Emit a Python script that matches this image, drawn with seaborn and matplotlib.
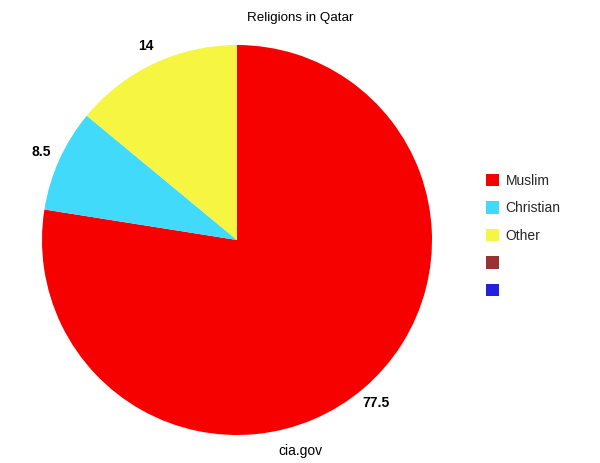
import matplotlib
matplotlib.use("Agg")
import matplotlib.pyplot as plt
import matplotlib.patches as mpatches
import seaborn as sns

sns.set_theme(style="white")
plt.rcParams['font.family'] = ['Liberation Sans', 'DejaVu Sans']

title = "Religions in Qatar"
caption = "cia.gov"
categories = ["Muslim", "Christian", "Other"]
values = [77.5, 8.5, 14]
value_labels = ["77.5", "8.5", "14"]
legend_labels = ["Muslim", "Christian", "Other", "", ""]
legend_colors = ["#F70000", "#42DAFA", "#F5F542", "#993333", "#2222DD"]
slice_colors = sns.color_palette(legend_colors[:len(categories)])

fig = plt.figure(figsize=(6.0, 4.63), dpi=100)
ax = fig.add_axes([42 / 600, (463 - 435) / 463, 390 / 600, 390 / 463])
wedges, texts = ax.pie(values, colors=slice_colors, startangle=90, counterclock=False,
                       labels=value_labels, labeldistance=1.1,
                       textprops=dict(fontsize=10, fontweight="bold", color="black"),
                       wedgeprops=dict(linewidth=0))
for t in texts:
    t.set_ha("center")
ax.set_xlim(-1, 1)
ax.set_ylim(-1, 1)
ax.set_aspect("equal")
ax.axis("off")

fig.text(300 / 600, 1 - 18 / 463, title, ha="center", va="center", fontsize=9.6, color="black")
fig.text(300 / 600, 1 - 451 / 463, caption, ha="center", va="center", fontsize=10, color="black")

handles = [mpatches.Patch(facecolor=c, edgecolor="none", label=l)
           for c, l in zip(legend_colors, legend_labels)]
fig.legend(handles=handles, loc="upper left", bbox_to_anchor=(480 / 600, 1 - 168 / 463),
           frameon=False, fontsize=10, handlelength=1.0, handleheight=1.0,
           labelspacing=0.98, handletextpad=0.45, borderaxespad=0)

fig.savefig("out.png", dpi=100, facecolor="white")
